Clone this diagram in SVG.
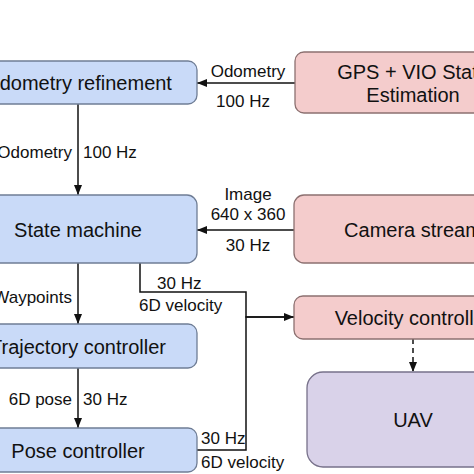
<svg xmlns="http://www.w3.org/2000/svg" width="474" height="474" viewBox="0 0 474 474">
<defs>
<marker id="ah" viewBox="0 0 10 10" refX="10" refY="5" markerWidth="10" markerHeight="10" markerUnits="userSpaceOnUse" orient="auto">
<path d="M0,1 L10,5 L0,9 Z" fill="#111"/>
</marker>
<style>
.blue{fill:#c9daf8;stroke:#6f7d95;stroke-width:1.3}
.pink{fill:#f4cccc;stroke:#8c7070;stroke-width:1.3}
.purple{fill:#d9d2e9;stroke:#77718a;stroke-width:1.3}
.t{font-family:"Liberation Sans",Arial,sans-serif;font-size:20px;fill:#111;text-anchor:middle}
.l{font-family:"Liberation Sans",Arial,sans-serif;font-size:17px;fill:#111}
.c{fill:none;stroke:#111;stroke-width:1.5}
</style>
</defs>
<rect width="474" height="474" fill="#fff"/>
<g id="connectors">
<path class="c" d="M295,83 H197" marker-end="url(#ah)"/>
<path class="c" d="M78,104 V195" marker-end="url(#ah)"/>
<path class="c" d="M294,230 H197" marker-end="url(#ah)"/>
<path class="c" d="M78,263 V324" marker-end="url(#ah)"/>
<path class="c" d="M140,263 V292 H246 V317 H294" marker-end="url(#ah)"/>
<path class="c" d="M197,450 H246 V317 H294"/>
<path class="c" d="M78,368 V428" marker-end="url(#ah)"/>
<path class="c" d="M413,339 V372" stroke-dasharray="5,4" marker-end="url(#ah)"/>
<text class="l" x="248" y="77" text-anchor="middle">Odometry</text>
<text class="l" x="243" y="107" text-anchor="middle">100 Hz</text>
<text class="l" x="72" y="158" text-anchor="end">Odometry</text>
<text class="l" x="83" y="158">100 Hz</text>
<text class="l" x="248" y="200" text-anchor="middle">Image</text>
<text class="l" x="248" y="220" text-anchor="middle">640 x 360</text>
<text class="l" x="248" y="251" text-anchor="middle">30 Hz</text>
<text class="l" x="72" y="303" text-anchor="end">Waypoints</text>
<text class="l" x="157" y="289">30 Hz</text>
<text class="l" x="139" y="311">6D velocity</text>
<text class="l" x="72" y="405" text-anchor="end">6D pose</text>
<text class="l" x="83" y="405">30 Hz</text>
<text class="l" x="201" y="444">30 Hz</text>
<text class="l" x="201" y="468">6D velocity</text>
</g>
<g id="odometry-refinement">
<rect class="blue" x="-41" y="61" width="238" height="43" rx="9"/>
<text class="t" x="78" y="90">Odometry refinement</text>
</g>
<g id="gps-vio">
<rect class="pink" x="295" y="52" width="238" height="61" rx="9"/>
<text class="t" x="413" y="79">GPS + VIO State</text>
<text class="t" x="413" y="102">Estimation</text>
</g>
<g id="state-machine">
<rect class="blue" x="-41" y="195" width="238" height="68" rx="10"/>
<text class="t" x="78" y="237">State machine</text>
</g>
<g id="camera-stream">
<rect class="pink" x="294" y="195" width="238" height="68" rx="10"/>
<text class="t" x="413" y="237">Camera stream</text>
</g>
<g id="velocity-controller">
<rect class="pink" x="294" y="296" width="238" height="43" rx="9"/>
<text class="t" x="413" y="325">Velocity controller</text>
</g>
<g id="trajectory-controller">
<rect class="blue" x="-41" y="324" width="238" height="44" rx="9"/>
<text class="t" x="78" y="354">Trajectory controller</text>
</g>
<g id="pose-controller">
<rect class="blue" x="-41" y="428" width="238" height="44" rx="9"/>
<text class="t" x="78" y="458">Pose controller</text>
</g>
<g id="uav">
<rect class="purple" x="307" y="372" width="225" height="95" rx="16"/>
<text class="t" x="413" y="427">UAV</text>
</g>
</svg>
